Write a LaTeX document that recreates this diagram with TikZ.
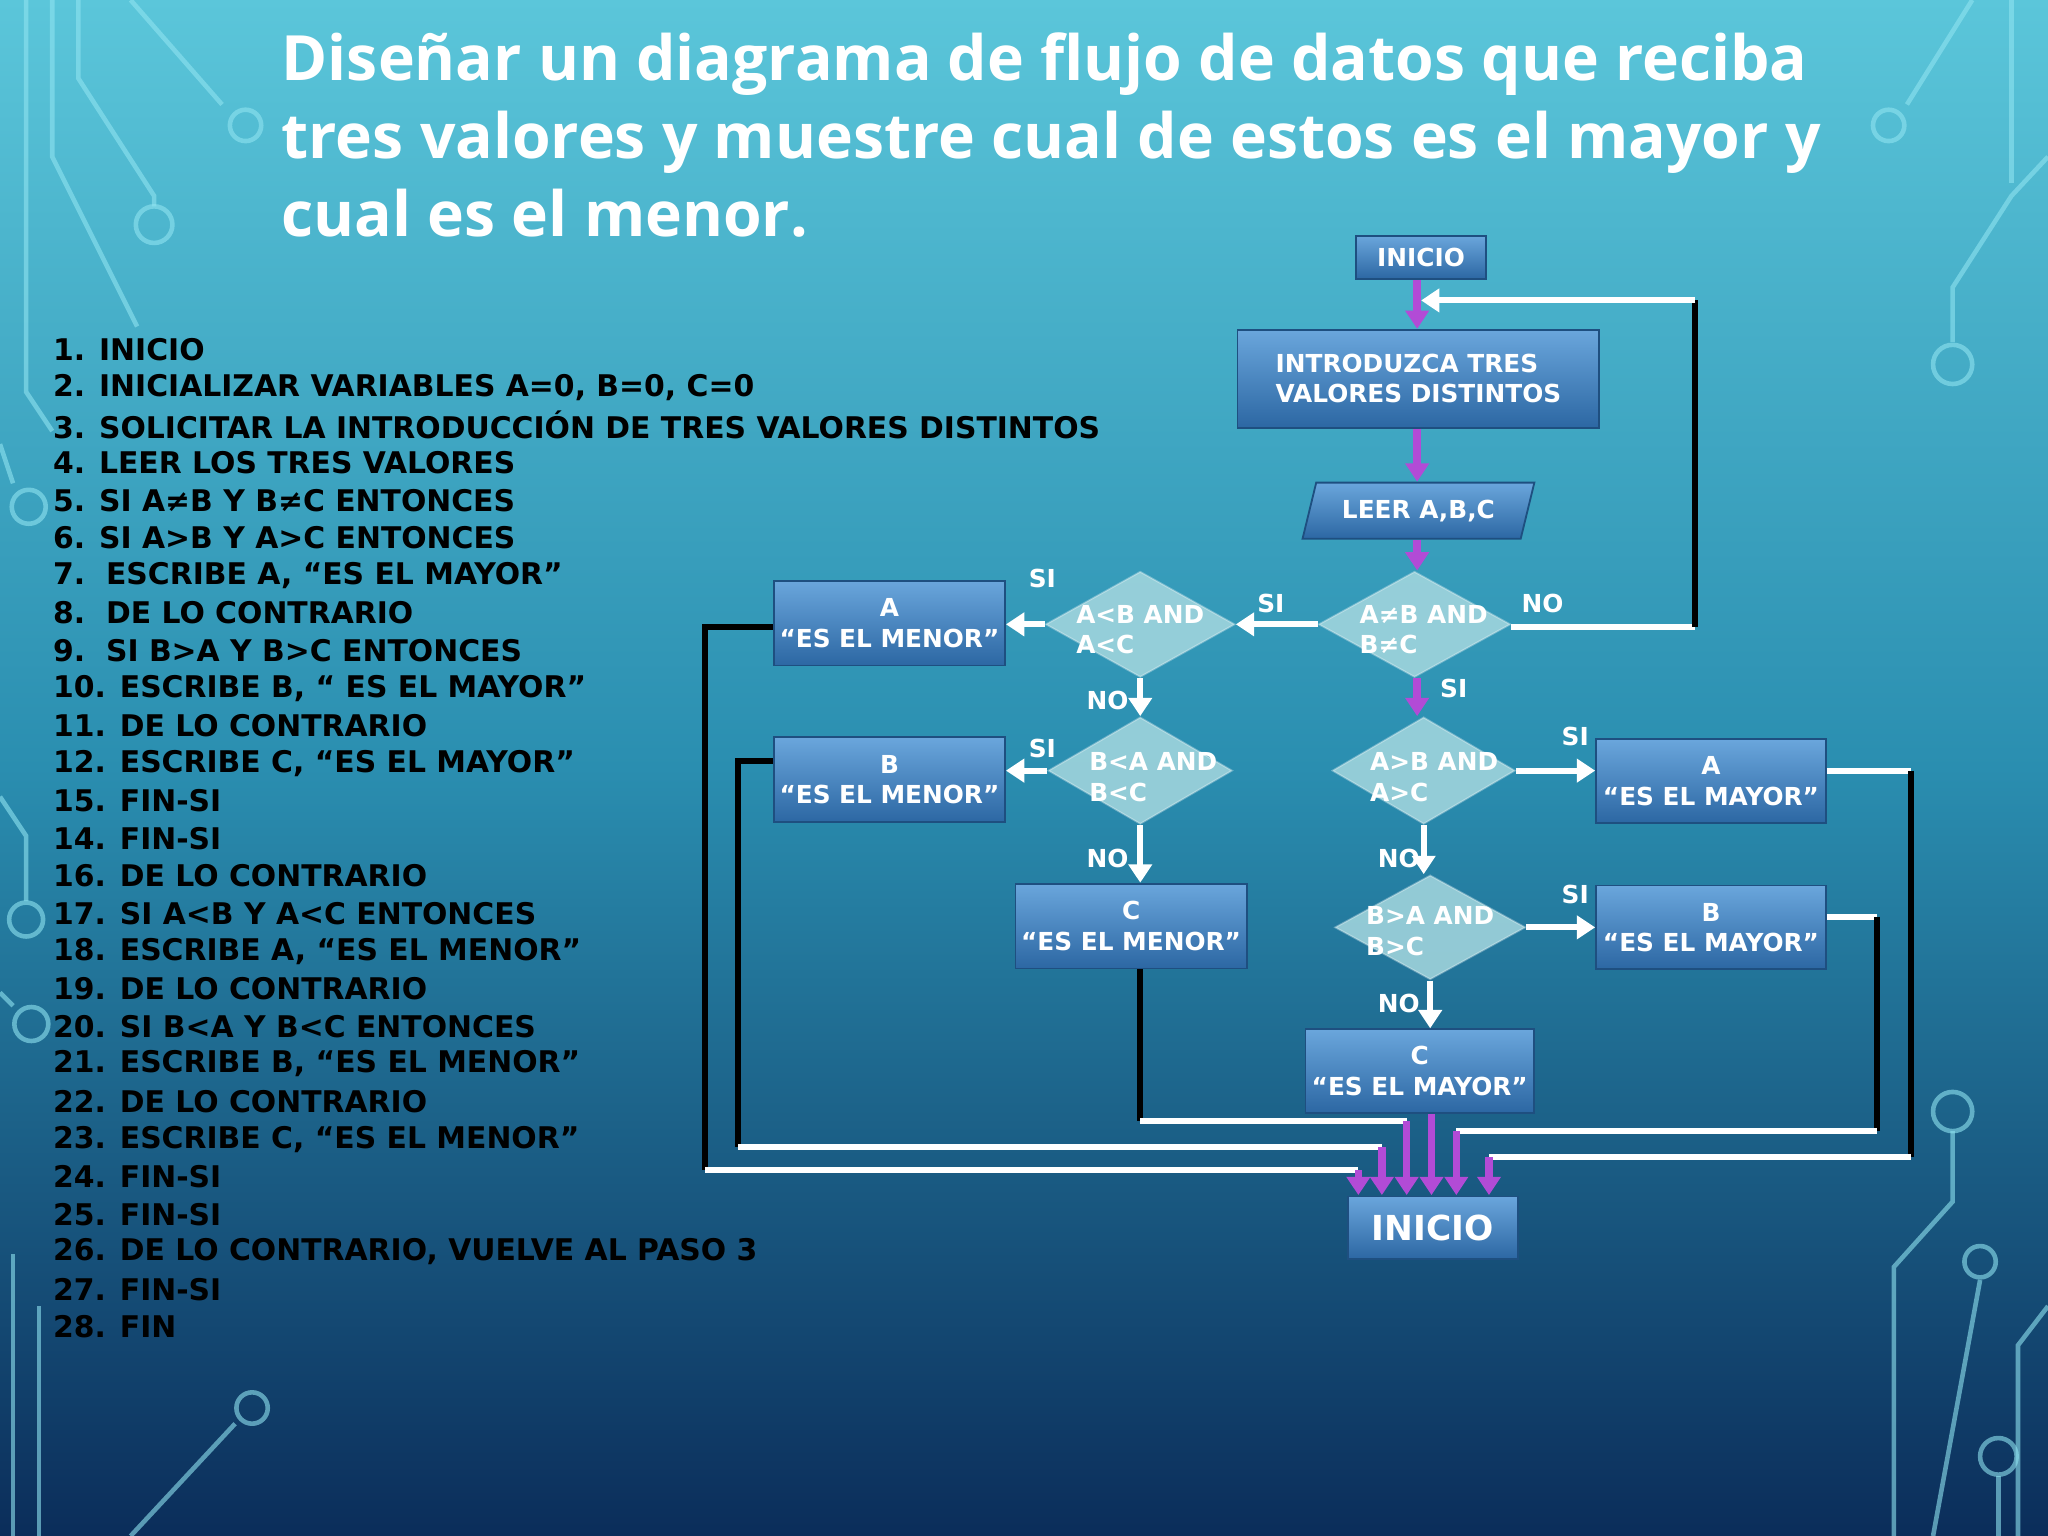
\documentclass[tikz,border=0pt]{standalone}
\usepackage{fontspec}
\setmainfont{DejaVu Sans}
\newfontfamily\titlefont{Open Sans}
\usetikzlibrary{shapes.geometric,arrows.meta}
\definecolor{bgtop}{HTML}{5BC6DA}
\definecolor{bgmid}{HTML}{2A8EB0}
\definecolor{bgbot}{HTML}{0B2D5A}
\definecolor{boxtop}{HTML}{6AA6DC}
\definecolor{boxbot}{HTML}{2C67A3}
\definecolor{boxedge}{HTML}{1E4F80}
\definecolor{diafill}{HTML}{A6D8DF}
\definecolor{mag}{HTML}{B24BD6}
\definecolor{circ}{HTML}{8FE3F0}
\tikzset{
  fbox/.style={rectangle,top color=boxtop,bottom color=boxbot,draw=boxedge,line width=0.4pt,
    text=white,font=\bfseries\fontsize{5.4}{6.6}\selectfont,align=center,inner sep=0pt},
  dia/.style={diamond,fill=diafill,fill opacity=0.85,draw=white,draw opacity=0.3,inner sep=0pt,aspect=1.8},
  dtxt/.style={text=white,font=\bfseries\fontsize{5.4}{6.6}\selectfont,align=left,inner sep=0pt},
  lbl/.style={text=white,font=\bfseries\fontsize{5.4}{6.6}\selectfont,inner sep=0pt},
  warr/.style={white,line width=1.3pt,-{Triangle[width=5pt,length=4pt]}},
  marr/.style={mag,line width=1.6pt,-{Triangle[width=5pt,length=4pt]}},
  wline/.style={white,line width=1.3pt},
  bline/.style={black,line width=1.3pt},
  circuit/.style={circ,line width=1pt,opacity=0.6},
  listtxt/.style={anchor=west,inner sep=0pt,font=\bfseries\fontsize{6.5}{8}\selectfont,text=black}
}
\begin{document}
\begin{tikzpicture}[x=0.1mm,y=-0.1mm]
\shade[top color=bgtop,bottom color=bgbot,middle color=bgmid] (0,0) rectangle (1568,1176);
\useasboundingbox (0,0) rectangle (1568,1176);
% circuit decorations
\draw[circuit] (20,0) -- (20,300) -- (40,330);
\draw[circuit] (40,0) -- (40,120) -- (105,250);
\draw[circuit] (60,0) -- (60,60) -- (118,150) -- (118,158);
\draw[circuit] (118,172) circle (14);
\draw[circuit] (100,0) -- (170,80);
\draw[circuit] (188,96) circle (12);
\draw[circuit] (0,340) -- (10,370);
\draw[circuit] (22,388) circle (13);
\draw[circuit] (0,610) -- (20,640) -- (20,690);
\draw[circuit] (20,704) circle (13);
\draw[circuit] (0,760) -- (10,770);
\draw[circuit] (24,784) circle (13);
\draw[circuit] (10,960) -- (10,1176);
\draw[circuit] (30,1000) -- (30,1176);
\draw[circuit] (100,1176) -- (180,1090);
\draw[circuit] (193,1078) circle (12);
\draw[circuit] (1510,0) -- (1460,80);
\draw[circuit] (1446,96) circle (12);
\draw[circuit] (1568,120) -- (1540,150) -- (1495,220) -- (1495,262);
\draw[circuit] (1495,279) circle (15);
\draw[circuit] (1540,0) -- (1540,140);
\draw[circuit] (1495,866) -- (1495,920) -- (1450,970) -- (1450,1176);
\draw[circuit] (1495,851) circle (15);
\draw[circuit] (1516,980) -- (1480,1176);
\draw[circuit] (1516,966) circle (12);
\draw[circuit] (1530,1130) -- (1530,1176);
\draw[circuit] (1530,1115) circle (14);
\draw[circuit] (1568,1000) -- (1545,1030) -- (1545,1176);
% title
\node[anchor=north west,inner sep=0pt,text=white,align=left,font=\titlefont\bfseries\fontsize{13.6}{17}\selectfont] (title) at (215,24)
 {Diseñar un diagrama de flujo de datos que reciba\\tres valores y muestre cual de estos es el mayor y\\cual es el menor.};
% list
\foreach \t [count=\i from 0] in {
 {1. INICIO},
 {2. INICIALIZAR VARIABLES A=0, B=0, C=0},
 {3. SOLICITAR LA INTRODUCCIÓN DE TRES VALORES DISTINTOS},
 {4. LEER LOS TRES VALORES},
 {5. SI A≠B Y B≠C ENTONCES},
 {6. SI A>B Y A>C ENTONCES},
 {7.\ \ ESCRIBE A, “ES EL MAYOR”},
 {8.\ \ DE LO CONTRARIO},
 {9.\ \ SI B>A Y B>C ENTONCES},
 {10. ESCRIBE B, “ ES EL MAYOR”},
 {11. DE LO CONTRARIO},
 {12. ESCRIBE C, “ES EL MAYOR”},
 {15. FIN-SI},
 {14. FIN-SI},
 {16. DE LO CONTRARIO},
 {17. SI A<B Y A<C ENTONCES},
 {18. ESCRIBE A, “ES EL MENOR”},
 {19. DE LO CONTRARIO},
 {20. SI B<A Y B<C ENTONCES},
 {21. ESCRIBE B, “ES EL MENOR”},
 {22. DE LO CONTRARIO},
 {23. ESCRIBE C, “ES EL MENOR”},
 {24. FIN-SI},
 {25. FIN-SI},
 {26. DE LO CONTRARIO, VUELVE AL PASO 3},
 {27. FIN-SI},
 {28. FIN}}
 { \node[listtxt] (l\i) at (40,268+28.77*\i) {\t}; }
% flowchart nodes
\node[fbox,minimum width=10mm,minimum height=3.3mm] (ini) at (1088,197) {INICIO};
\node[fbox,minimum width=27.7mm,minimum height=7.5mm,align=left] (intro) at (1086,290) {INTRODUZCA TRES\\VALORES DISTINTOS};
\node[trapezium,trapezium left angle=65,trapezium right angle=115,trapezium stretches=true,top color=boxtop,bottom color=boxbot,draw=boxedge,
  minimum width=17.8mm,minimum height=4.3mm,inner sep=0pt,text=white,font=\bfseries\fontsize{5.4}{6.6}\selectfont] (leer) at (1086,391) {LEER A,B,C};
\node[dia,minimum width=14.7mm,minimum height=8.1mm] (d1) at (1083,478) {};
\node[dtxt] at (1090,482) {A≠B AND\\B≠C};
\node[dia,minimum width=14.5mm,minimum height=8.1mm] (d2) at (873,478) {};
\node[dtxt] at (873,482) {A<B AND\\A<C};
\node[dia,minimum width=14.1mm,minimum height=8.2mm] (d4) at (873,590) {};
\node[dtxt] at (883,595) {B<A AND\\B<C};
\node[dia,minimum width=14mm,minimum height=8.2mm] (d3) at (1090,590) {};
\node[dtxt] at (1098,595) {A>B AND\\A>C};
\node[dia,minimum width=14.6mm,minimum height=8mm] (d5) at (1095,710) {};
\node[dtxt] at (1095,713) {B>A AND\\B>C};
\node[fbox,minimum width=17.7mm,minimum height=6.5mm] (amen) at (681,477) {A\\“ES EL MENOR”};
\node[fbox,minimum width=17.7mm,minimum height=6.5mm] (bmen) at (681,597) {B\\“ES EL MENOR”};
\node[fbox,minimum width=17.7mm,minimum height=6.5mm] (cmen) at (866,709) {C\\“ES EL MENOR”};
\node[fbox,minimum width=17.6mm,minimum height=6.4mm] (amay) at (1310,598) {A\\“ES EL MAYOR”};
\node[fbox,minimum width=17.6mm,minimum height=6.4mm] (bmay) at (1310,710) {B\\“ES EL MAYOR”};
\node[fbox,minimum width=17.5mm,minimum height=6.4mm] (cmay) at (1087,820) {C\\“ES EL MAYOR”};
\node[fbox,minimum width=13mm,minimum height=4.8mm,font=\bfseries\fontsize{7.5}{9}\selectfont] (fin) at (1097,940) {INICIO};
% main arrows
\draw[marr] (ini.south -| 1085,0) -- (intro.north -| 1085,0);
\draw[marr] (intro.south -| 1085,0) -- (leer.north -| 1085,0);
\draw[marr] (leer.south -| 1085,0) -- (d1.north -| 1085,0);
\draw[marr] (d1.south -| 1085,0) -- (d3.north -| 1085,0);
\draw[warr] (d1.west) -- (d2.east);
\draw[warr] (d2.west) -- (amen.east |- d2.west);
\draw[warr] (d2.south) -- (d4.north);
\draw[warr] (d4.west) -- (bmen.east |- d4.west);
\draw[warr] (d4.south) -- (cmen.north -| d4.south);
\draw[warr] (d3.east) -- (amay.west |- d3.east);
\draw[warr] (d3.south) -- (d5.north -| d3.south);
\draw[warr] (d5.east) -- (bmay.west |- d5.east);
\draw[warr] (d5.south) -- (cmay.north -| d5.south);
% NO loop
\coordinate (lp1) at (1298,480);
\coordinate (lp2) at (1298,230);
\coordinate (lp3) at (1088,230);
\draw[wline] (d1.east |- lp1) -- (lp1);
\draw[bline] (lp1) -- (lp2);
\draw[warr] (lp2) -- (lp3);
% labels
\node[lbl] at (973,462) {SI};
\node[lbl] at (1181,462) {NO};
\node[lbl] at (1113,527) {SI};
\node[lbl] at (798,443) {SI};
\node[lbl] at (848,536) {NO};
\node[lbl] at (798,573) {SI};
\node[lbl] at (848,657) {NO};
\node[lbl] at (1206,564) {SI};
\node[lbl] at (1071,657) {NO};
\node[lbl] at (1206,685) {SI};
\node[lbl] at (1071,768) {NO};
% converging connectors
\coordinate (a1) at (540,480); \coordinate (a2) at (540,896); \coordinate (a3) at (1040,896); \coordinate (a4) at (1040,915);
\draw[bline] (amen.west |- a1) -- (a1) -- (a2);
\draw[wline] (a2) -- (a3);
\draw[marr] (a3) -- (a4);
\coordinate (b1) at (565,583); \coordinate (b2) at (565,878); \coordinate (b3) at (1058,878); \coordinate (b4) at (1058,915);
\draw[bline] (bmen.west |- b1) -- (b1) -- (b2);
\draw[wline] (b2) -- (b3);
\draw[marr] (b3) -- (b4);
\coordinate (c2) at (873,858); \coordinate (c3) at (1077,858); \coordinate (c4) at (1077,915);
\draw[bline] (cmen.south -| c2) -- (c2);
\draw[wline] (c2) -- (c3);
\draw[marr] (c3) -- (c4);
\coordinate (e4) at (1096,915);
\draw[marr] (cmay.south -| e4) -- (e4);
\coordinate (f1) at (1437,702); \coordinate (f2) at (1437,866); \coordinate (f3) at (1115,866); \coordinate (f4) at (1115,915);
\draw[wline] (bmay.east |- f1) -- (f1);
\draw[bline] (f1) -- (f2);
\draw[wline] (f2) -- (f3);
\draw[marr] (f3) -- (f4);
\coordinate (g1) at (1463,590); \coordinate (g2) at (1463,886); \coordinate (g3) at (1140,886); \coordinate (g4) at (1140,915);
\draw[wline] (amay.east |- g1) -- (g1);
\draw[bline] (g1) -- (g2);
\draw[wline] (g2) -- (g3);
\draw[marr] (g3) -- (g4);
\end{tikzpicture}
\end{document}
